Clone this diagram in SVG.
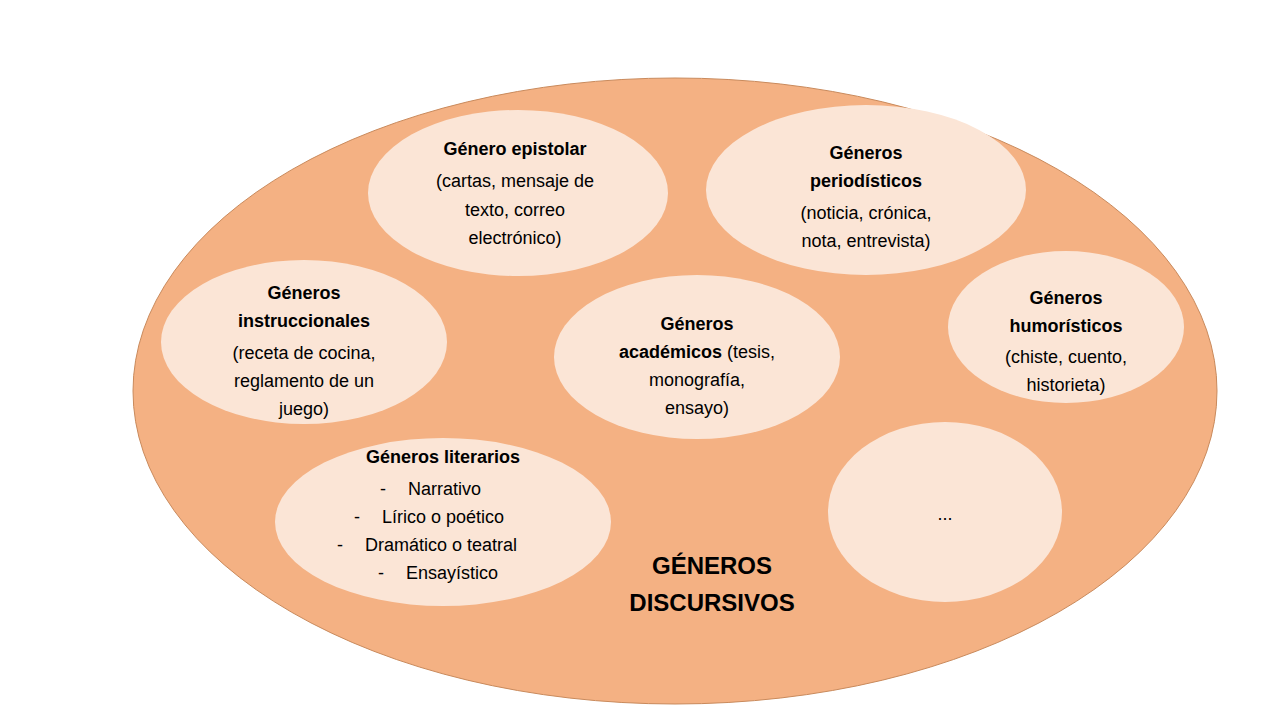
<svg xmlns="http://www.w3.org/2000/svg" width="1280" height="720" viewBox="0 0 1280 720">
<style>
.s{fill:#FBE5D6}
text{font-family:"Liberation Sans",Arial,sans-serif;font-size:18px;fill:#000;text-anchor:middle}
.b{font-weight:bold}
.l{text-anchor:start}
</style>
<rect width="1280" height="720" fill="#fff"/>
<g id="main"><ellipse cx="675" cy="391" rx="542" ry="313" fill="#F4B183" stroke="#C98A5C" stroke-width="1"/>
<text class="b" x="712" y="574" style="font-size:24px">GÉNEROS</text>
<text class="b" x="712" y="611" style="font-size:24px">DISCURSIVOS</text></g>
<g id="epistolar"><ellipse class="s" cx="518" cy="193" rx="150" ry="83"/>
<text class="b" x="515" y="155">Género epistolar</text>
<text x="515" y="187">(cartas, mensaje de</text>
<text x="515" y="216">texto, correo</text>
<text x="515" y="244">electrónico)</text></g>
<g id="periodisticos"><ellipse class="s" cx="866" cy="190" rx="160" ry="85"/>
<text class="b" x="866" y="159">Géneros</text>
<text class="b" x="866" y="187">periodísticos</text>
<text x="866" y="219">(noticia, crónica,</text>
<text x="866" y="247">nota, entrevista)</text></g>
<g id="instruccionales"><ellipse class="s" cx="304" cy="342" rx="143" ry="82"/>
<text class="b" x="304" y="299">Géneros</text>
<text class="b" x="304" y="327">instruccionales</text>
<text x="304" y="359">(receta de cocina,</text>
<text x="304" y="387">reglamento de un</text>
<text x="304" y="415">juego)</text></g>
<g id="academicos"><ellipse class="s" cx="697" cy="357" rx="143" ry="82"/>
<text class="b" x="697" y="330">Géneros</text>
<text x="697" y="358"><tspan class="b">académicos</tspan> (tesis,</text>
<text x="697" y="386">monografía,</text>
<text x="697" y="414">ensayo)</text></g>
<g id="humoristicos"><ellipse class="s" cx="1066" cy="327" rx="118" ry="76"/>
<text class="b" x="1066" y="304">Géneros</text>
<text class="b" x="1066" y="332">humorísticos</text>
<text x="1066" y="363">(chiste, cuento,</text>
<text x="1066" y="391">historieta)</text></g>
<g id="literarios"><ellipse class="s" cx="443" cy="522" rx="168" ry="84"/>
<text class="b" x="443" y="463">Géneros literarios</text>
<text class="l" x="380" y="495">-</text><text class="l" x="408" y="495">Narrativo</text>
<text class="l" x="354" y="523">-</text><text class="l" x="382" y="523">Lírico o poético</text>
<text class="l" x="337" y="551">-</text><text class="l" x="365" y="551">Dramático o teatral</text>
<text class="l" x="378" y="579">-</text><text class="l" x="406" y="579">Ensayístico</text></g>
<g id="otros"><ellipse class="s" cx="945" cy="512" rx="117" ry="90"/>
<text x="945" y="520">...</text></g>
<g id="connectors"/>
</svg>
